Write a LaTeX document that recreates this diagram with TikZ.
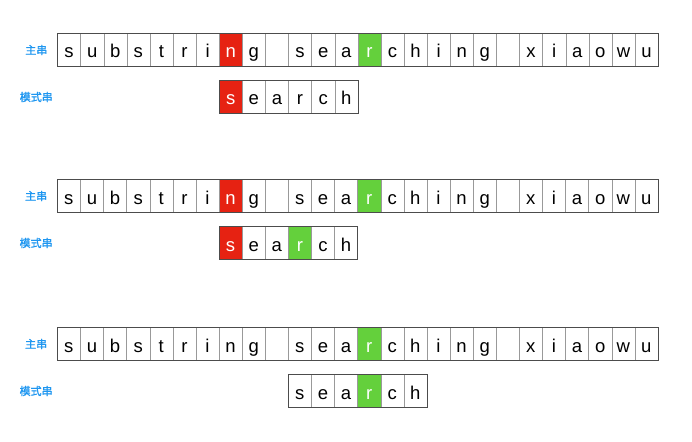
\documentclass[tikz,border=0pt]{standalone}
\usepackage{fontspec}
\setmainfont{Liberation Sans}
\newfontfamily\cjk[FakeBold=1.2]{Noto Sans CJK SC}
\usetikzlibrary{positioning}
\definecolor{hitred}{RGB}{230,34,18}
\definecolor{hitgreen}{RGB}{100,208,60}
\definecolor{tagblue}{RGB}{30,150,240}
\tikzset{
  cell/.style={shape=rectangle,draw=black!40,minimum width=23.1pt,minimum height=33pt,
    inner sep=0pt,outer sep=0pt,text height=16pt,text depth=0pt,font=\fontsize{18.5}{18.5}\selectfont},
  frame/.style={draw=black!70},
  tag/.style={text=tagblue,inner sep=0pt,font=\cjk\fontsize{11}{11}\selectfont}
}
% main string: #1 name, #2 position, #3 red cell, #4 green cell
\newcommand*\mainrow[4]{
  \foreach \c [count=\i from 0] in {s,u,b,s,t,r,i,n,g,{},s,e,a,r,c,h,i,n,g,{},x,i,a,o,w,u}{
    \def\cfill{white}\def\ctext{black}
    \ifnum\i=#3 \def\cfill{hitred}\def\ctext{white}\fi
    \ifnum\i=#4 \def\cfill{hitgreen}\def\ctext{white}\fi
    \ifnum\i=0
      \node[cell,fill=\cfill,text=\ctext] (#1-\i) at #2 {\c};
    \else
      \pgfmathtruncatemacro\j{\i-1}
      \node[cell,fill=\cfill,text=\ctext,right=0pt of #1-\j] (#1-\i) {\c};
    \fi
  }
  \draw[frame] (#1-0.north west) rectangle (#1-25.south east);
}
% pattern: #1 name, #2 cell above, #3 red cell, #4 green cell
\newcommand*\patrow[4]{
  \foreach \c [count=\i from 0] in {s,e,a,r,c,h}{
    \def\cfill{white}\def\ctext{black}
    \ifnum\i=#3 \def\cfill{hitred}\def\ctext{white}\fi
    \ifnum\i=#4 \def\cfill{hitgreen}\def\ctext{white}\fi
    \ifnum\i=0
      \node[cell,fill=\cfill,text=\ctext,below=14pt of #2] (#1-\i) {\c};
    \else
      \pgfmathtruncatemacro\j{\i-1}
      \node[cell,fill=\cfill,text=\ctext,right=0pt of #1-\j] (#1-\i) {\c};
    \fi
  }
  \draw[frame] (#1-0.north west) rectangle (#1-5.south east);
}
\begin{document}
\begin{tikzpicture}[x=1pt,y=1pt]
  \useasboundingbox (0,0) rectangle (692,-441);
  % first try: mismatch at n
  \mainrow{mA}{(69.05,-50)}{7}{13}
  \patrow{pA}{mA-7}{0}{-1}
  \node[tag,left=10pt of mA-0] (tmA) {主串};
  \node[tag] (tpA) at (tmA |- pA-0) {模式串};
  % bad character r found in pattern
  \mainrow{mB}{(68.85,-196)}{7}{13}
  \patrow{pB}{mB-7}{0}{3}
  \node[tag,left=10pt of mB-0] (tmB) {主串};
  \node[tag] (tpB) at (tmB |- pB-0) {模式串};
  % pattern shifted to line up r
  \mainrow{mC}{(68.85,-344)}{-1}{13}
  \patrow{pC}{mC-10}{-1}{3}
  \node[tag,left=10pt of mC-0] (tmC) {主串};
  \node[tag] (tpC) at (tmC |- pC-0) {模式串};
\end{tikzpicture}
\end{document}
